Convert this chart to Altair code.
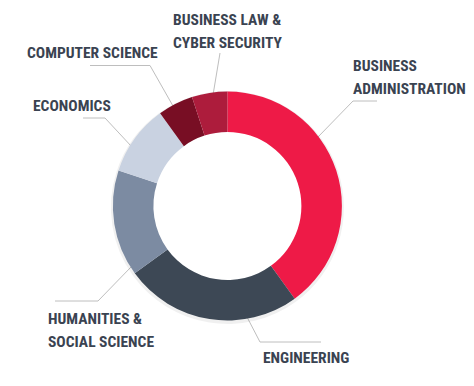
import altair as alt
import pandas as pd

# ---- data ----
categories = ["Business Administration", "Engineering", "Humanities & Social Science",
              "Economics", "Computer Science", "Business Law & Cyber Security"]
shares = [40, 25, 15, 10, 5, 5]
colors = ["#EE1A47", "#3D4855", "#7C8BA2", "#C9D2E1", "#780E24", "#AD1C3C"]

label_lines = [
    ["BUSINESS", "ADMINISTRATION"],
    ["ENGINEERING"],
    ["HUMANITIES &", "SOCIAL SCIENCE"],
    ["ECONOMICS"],
    ["COMPUTER SCIENCE"],
    ["BUSINESS LAW &", "CYBER SECURITY"],
]

# ---- layout (page pixel coordinates) ----
MARGIN = 8
CX, CY = 227.4, 206.0
R_OUT, R_IN = 114.5, 74.0
label_anchor = [(353, 65.5), (263, 358), (48, 319), (33, 105.5), (27, 52.5), (173, 19.5)]
line_step = 23
leaders = [
    [(377, 101), (353, 101), (318, 137)],
    [(247, 317), (260, 342), (321, 342)],
    [(55, 301), (98, 301), (132, 266)],
    [(83, 118), (105, 118), (132, 147)],
    [(90, 65.5), (150, 65.5), (173, 106)],
    [(220, 53), (213, 95)],
]

pie_df = pd.DataFrame({"cat": categories, "share": shares, "idx": range(len(categories))})

txt_rows = []
for i, lines in enumerate(label_lines):
    x0, y0 = label_anchor[i]
    for j, t in enumerate(lines):
        txt_rows.append({"x": x0, "y": y0 + j * line_step, "t": t})
txt_df = pd.DataFrame(txt_rows)

ln_rows = []
for i, pts in enumerate(leaders):
    for k, (x, y) in enumerate(pts):
        ln_rows.append({"g": i, "k": k, "x": x, "y": y})
ln_df = pd.DataFrame(ln_rows)

W, H = 458, 370
xs = alt.Scale(domain=[MARGIN, MARGIN + W], zero=False, nice=False)
ys = alt.Scale(domain=[MARGIN, MARGIN + H], reverse=True, zero=False, nice=False)

lines = alt.Chart(ln_df).mark_line(color="#BEBEBE", strokeWidth=1).encode(
    x=alt.X("x:Q", scale=xs, axis=None),
    y=alt.Y("y:Q", scale=ys, axis=None),
    detail="g:N",
    order="k:Q",
)

shadow = alt.Chart(pie_df).mark_arc(
    radius=R_OUT + 2, radius2=R_IN + 10, color="#000000", opacity=0.06,
    x=CX - MARGIN, y=CY - MARGIN + 1.5,
).encode(
    theta=alt.Theta("share:Q", stack=True),
    order=alt.Order("idx:Q"),
)

ring = alt.Chart(pie_df).mark_arc(
    radius=R_OUT, radius2=R_IN, x=CX - MARGIN, y=CY - MARGIN,
).encode(
    theta=alt.Theta("share:Q", stack=True),
    order=alt.Order("idx:Q"),
    color=alt.Color("cat:N", scale=alt.Scale(domain=categories, range=colors), legend=None),
)

texts = alt.Chart(txt_df).mark_text(
    align="left", baseline="middle", font="Roboto Condensed", fontWeight="bold",
    fontSize=15.5, color="#3A4351",
).encode(
    x=alt.X("x:Q", scale=xs, axis=None),
    y=alt.Y("y:Q", scale=ys, axis=None),
    text="t:N",
)

chart = alt.layer(lines, shadow, ring, texts).properties(
    width=W, height=H, padding=0, background="white",
    autosize=alt.AutoSizeParams(type="none"),
).configure_view(stroke=None)

chart.save("out.html", embed_options={"renderer": "svg", "actions": False})
